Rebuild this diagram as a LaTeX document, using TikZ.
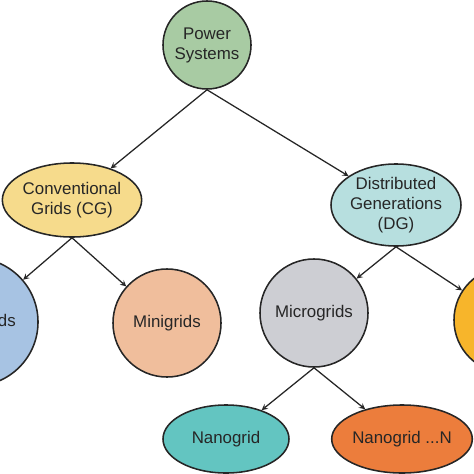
\documentclass[tikz,border=0pt]{standalone}
\usepackage{fontspec}
\setmainfont{Liberation Sans}
\usepackage{tikz}
\usetikzlibrary{arrows,shapes.geometric}
\definecolor{psgreen}{HTML}{A8CBA3}
\definecolor{cgyellow}{HTML}{F6DB8C}
\definecolor{dgcyan}{HTML}{B7DFDF}
\definecolor{macroblue}{HTML}{A7C3E3}
\definecolor{minipeach}{HTML}{F0BE9C}
\definecolor{microgrey}{HTML}{CDCED3}
\definecolor{smartorange}{HTML}{F7B52B}
\definecolor{nanoteal}{HTML}{63C5C1}
\definecolor{nanoorange}{HTML}{EC7D3C}
\definecolor{ink}{HTML}{262626}

\begin{document}
\begin{tikzpicture}[x=0.025cm, y=-0.025cm]
        \clip (0,0) rectangle (474,474);
        \tikzset{every node/.style={draw=ink, line width=1.1pt, inner sep=0pt, align=center, text=ink, font=\fontsize{12}{14.2}\selectfont}}
        \tikzset{round/.style={circle}, oval/.style={ellipse}}
        \node[round, fill=psgreen, minimum size=2.2cm] (ps) at (207, 45) {Power\\Systems};
        \node[oval, fill=cgyellow, minimum width=3.45cm, minimum height=1.85cm] (cg) at (72, 200) {Conventional\\Grids (CG)};
        \node[oval, fill=dgcyan, minimum width=3.15cm, minimum height=2.05cm] (dg) at (396, 205) {Distributed\\Generations\\(DG)};
        % second level
        \node[round, fill=macroblue, minimum size=3.2cm] (macro) at (-26, 322) {Macrogrids};
        \node[round, fill=minipeach, minimum size=2.7cm] (mini) at (167, 323) {Minigrids};
        \node[round, fill=microgrey, minimum size=2.7cm] (micro) at (314, 313) {Microgrids};
        \node[round, fill=smartorange, minimum size=2.65cm] (smart) at (507, 320) {};
        % third level
        \node[oval, fill=nanoteal, minimum width=3.15cm, minimum height=1.7cm] (nano) at (226, 439) {Nanogrid};
        \node[oval, fill=nanoorange, minimum width=3.4cm, minimum height=1.7cm] (nanon) at (402, 439) {Nanogrid ...N};
        \tikzset{myarrow/.style={->, >=stealth, line width=0.9pt, draw=ink}}
        \path (ps.south) edge [myarrow] (cg);
        \path (ps.south) edge [myarrow] (dg);
        \path (cg.south) edge [myarrow] (macro);
        \path (cg.south) edge [myarrow] (mini);
        \path (dg.south) edge [myarrow] (micro);
        \path (dg.south) edge [myarrow] (smart);
        \path (micro.south) edge [myarrow] (nano);
        \path (micro.south) edge [myarrow] (nanon);
\end{tikzpicture}
\end{document}
